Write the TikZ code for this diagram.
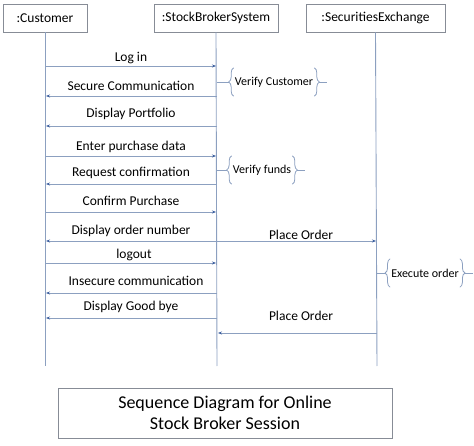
\documentclass[tikz,border=0pt]{standalone}
\usepackage{fontspec}
\setmainfont{Carlito}
\usetikzlibrary{arrows.meta,decorations.pathreplacing}
\definecolor{lineblue}{RGB}{140,160,192}
\definecolor{tipblue}{RGB}{60,95,160}
\definecolor{boxgray}{RGB}{135,140,150}

\begin{document}
\begin{tikzpicture}[x=1pt, y=-1pt]
    % Define styles
    \tikzset{
        lifebox/.style={
            draw=boxgray,
            line width=0.8pt,
            minimum height=28pt,
            inner sep=0pt,
            font=\fontsize{13.5}{16}\selectfont
        },
        lifeline/.style={
            lineblue,
            line width=0.9pt
        },
        msg/.style={
            lineblue,
            line width=0.8pt,
            shorten >=1pt,
            -{Stealth[length=4pt, width=3pt, color=tipblue]}
        },
        lbl/.style={
            text=black,
            font=\fontsize{13.5}{16}\selectfont,
            text depth=4pt,
            inner sep=2pt
        },
        note/.style={
            font=\fontsize{12}{14}\selectfont,
            minimum height=28pt,
            inner sep=1pt
        },
        brc/.style={
            lineblue,
            line width=0.8pt,
            decorate,
            decoration={brace, amplitude=5pt}
        }
    }
    \useasboundingbox (0,0) rectangle (474,446);

    % Objects
    \node[lifebox, minimum width=84pt] (cust) at (45,18) {:Customer};
    \node[lifebox, minimum width=124pt] (broker) at (216,18) {:StockBrokerSystem};
    \node[lifebox, minimum width=139pt] (exch) at (375.5,18) {:SecuritiesExchange};

    % Lifelines
    \coordinate (custend) at (45,366);
    \coordinate (brokerend) at (217,366);
    \coordinate (exchend) at (377,366);
    \draw[lifeline] (cust.south) -- (custend);
    \draw[lifeline] (broker.south) -- (brokerend);
    \draw[lifeline] (exch.south) -- (exchend);

    % Message points on the lifelines
    \foreach \n/\y in {1/66, 2/96, 3/126, 4/156, 5/184, 6/212, 7/241, 8/263, 9/293, 10/318, 11/333} {
        \coordinate (c\n) at (45,\y);
        \coordinate (s\n) at (217,\y);
        \coordinate (e\n) at (377,\y);
    }

    % Messages
    \draw[msg] (c1) -- node[lbl, above, yshift=-1.5pt] {Log in} (s1);
    \draw[msg] (s2) -- node[lbl, above, yshift=-0.5pt] {Secure Communication} (c2);
    \draw[msg] (s3) -- node[lbl, above, yshift=2.5pt] {Display Portfolio} (c3);
    \draw[msg] (c4) -- node[lbl, above, yshift=-0.5pt] {Enter purchase data} (s4);
    \draw[msg] (s5) -- node[lbl, above, yshift=1.5pt] {Request confirmation} (c5);
    \draw[msg] (c6) -- node[lbl, above] {Confirm Purchase} (s6);
    \draw[msg] (s7) -- node[lbl, above, yshift=0.5pt] {Display order number} (c7);
    \draw[msg] (s7) -- node[lbl, above, yshift=-5pt, xshift=4pt] {Place Order} (e7);
    \draw[msg] (c8) -- node[lbl, above, yshift=-2pt, xshift=3pt] {logout} (s8);
    \draw[msg] (s9) -- node[lbl, above, yshift=1pt, xshift=5pt] {Insecure communication} (c9);
    \draw[msg] (s10) -- node[lbl, above, yshift=1.5pt] {Display Good bye} (c10);
    \draw[msg] (e11) -- node[lbl, above, yshift=6pt, xshift=4pt] {Place Order} (s11);

    % Activity notes
    \node[note] (vcust) at (274,82) {Verify Customer};
    \node[note] (vfund) at (262,170) {Verify funds};
    \node[note] (exec) at (425,273) {Execute order};
    \coordinate (vcustl) at (217,82);
    \coordinate (vfundl) at (217,170);
    \coordinate (execl) at (377,273);
    \foreach \nm in {vcust, vfund, exec} {
        \draw[brc] (\nm.south west) -- (\nm.north west);
        \draw[brc] (\nm.north east) -- (\nm.south east);
        \draw[lifeline, line width=0.8pt] (\nm l) -- ([xshift=-5pt]\nm.west);
        \draw[lifeline, line width=0.8pt] ([xshift=5pt]\nm.east) -- ++(8,0);
    }

    % Title
    \node[draw=boxgray, line width=0.8pt, minimum width=334pt, minimum height=50pt,
          align=center, font=\fontsize{18}{21}\selectfont] (title) at (225,413)
          {Sequence Diagram for Online\\Stock Broker Session};
\end{tikzpicture}
\end{document}
